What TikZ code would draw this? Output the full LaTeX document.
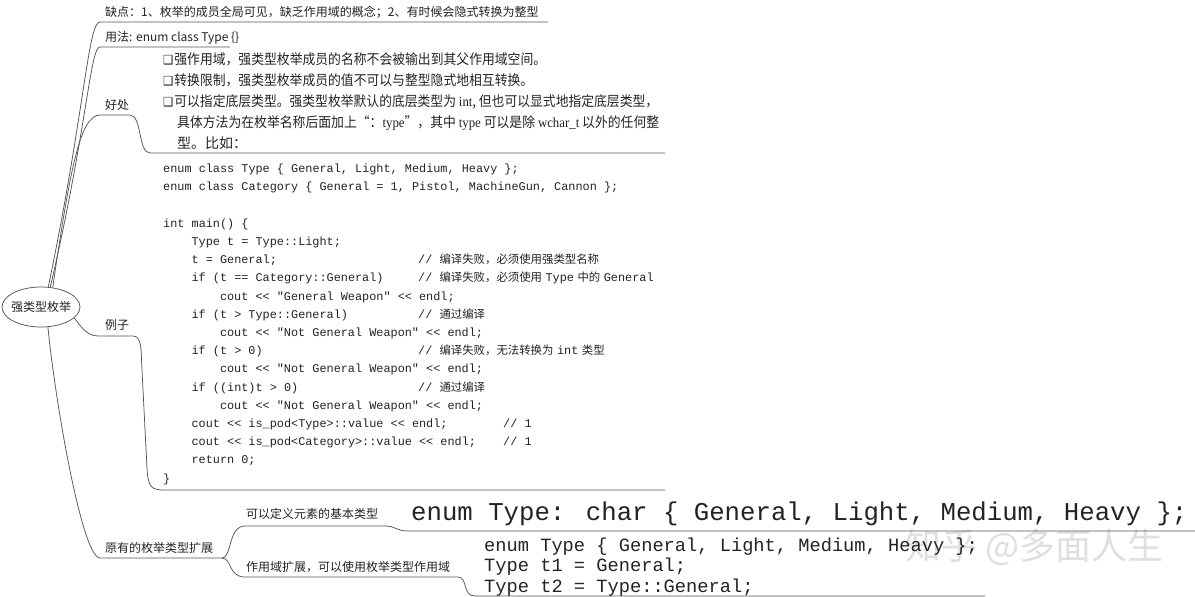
\documentclass[tikz,border=0pt]{standalone}
\usepackage{fontspec}
\usepackage{graphicx}
\setmainfont{Noto Sans CJK SC}
\newfontfamily\cjk{Noto Sans CJK SC}
\newfontfamily\codefnt{Liberation Mono}
\newfontfamily\serifl{Liberation Serif}
\newfontfamily\symfnt{DejaVu Sans}
\usetikzlibrary{shapes.geometric}
\definecolor{linegray}{RGB}{85,85,85}
\definecolor{txt}{RGB}{35,35,35}
\newcommand{\fitw}[2]{\resizebox{#1}{\height}{#2}}
\newcommand{\bul}{{\symfnt\fontsize{12.5}{12.5}\selectfont ❑}\hspace{1pt}}
\newcommand{\cmt}{\cjk\fontsize{11.4}{13}\selectfont}
\newcommand{\gap}{\hspace{3.5pt}}
\begin{document}
\begin{tikzpicture}[x=1pt,y=-1pt,
  conn/.style={draw=linegray,line width=0.75pt},
  lbl/.style={anchor=base west,inner sep=0,text=txt,font=\fontsize{12}{14}\selectfont},
  blt/.style={anchor=base west,inner sep=0,text=txt,font=\fontsize{14}{16}\selectfont},
  code/.style={anchor=base west,inner sep=0,text=txt,font=\codefnt\fontsize{11.85}{13}\selectfont},
  bigcode/.style={anchor=base west,inner sep=0,text=txt,font=\codefnt\fontsize{25.7}{28}\selectfont},
  midcode/.style={anchor=base west,inner sep=0,text=txt,font=\codefnt\fontsize{18.7}{20}\selectfont}]
\useasboundingbox (0,0) rectangle (1195,597);

% watermark
\node[anchor=base west,inner sep=0,text=gray!25,font=\fontsize{36}{38}\selectfont] (wm) at (905,559.7) {知乎 @多面人生};

% root
\node[ellipse,draw=linegray,line width=0.75pt,minimum width=78pt,minimum height=40pt,
      inner xsep=-3pt,inner ysep=0pt,text=txt,font=\fontsize{12}{14}\selectfont] (root) at (41,307) {强类型枚举};

% coordinates
\coordinate (qdL) at (100,22);  \coordinate (qdR) at (548,22);
\coordinate (yfL) at (100,47);  \coordinate (yfR) at (230,47);
\coordinate (hcL) at (100,115); \coordinate (hcR) at (130,115);
\coordinate (hcB) at (150,153); \coordinate (hcE) at (665,153);
\coordinate (lzL) at (100,336); \coordinate (lzR) at (133,336);
\coordinate (lzB) at (165,490); \coordinate (lzE) at (665,490);
\coordinate (yyL) at (100,558); \coordinate (yyR) at (222,558);
\coordinate (kdL) at (245,526); \coordinate (kdR) at (385,526);
\coordinate (kdB) at (408,531); \coordinate (kdE) at (1195,531);
\coordinate (zyL) at (245,577); \coordinate (zyR) at (458,577);
\coordinate (zyB) at (475,596); \coordinate (zyE) at (985,596);

% connectors
\draw[conn] (root.70) .. controls (85,110) and (88,22) .. (qdL) -- (qdR);
\draw[conn] (root.65) .. controls (87,130) and (90,47) .. (yfL) -- (yfR);
\draw[conn] (root.59) .. controls (70,170) and (80,115) .. (hcL) -- (hcR)
   .. controls (142,115) and (138,153) .. (hcB) -- (hcE);
\draw[conn] (root.-18) .. controls (85,333) and (90,336) .. (lzL) -- (lzR)
   .. controls (142,336) and (141,350) .. (142,370) -- (147,468)
   .. controls (148,488) and (152,490) .. (lzB) -- (lzE);
\draw[conn] (root.-71) .. controls (55,400) and (82,558) .. (yyL) -- (yyR);
\draw[conn] (yyR) .. controls (232,558) and (228,526) .. (kdL) -- (kdR)
   .. controls (396,526) and (396,531) .. (kdB) -- (kdE);
\draw[conn] (yyR) .. controls (232,558) and (228,577) .. (zyL) -- (zyR)
   .. controls (468,577) and (462,596) .. (zyB) -- (zyE);

% labels
\node[lbl] (qd) at (105,16.5) {缺点：1、枚举的成员全局可见，缺乏作用域的概念；2、有时候会隐式转换为整型};
\node[lbl] (yf) at (105,41) {用法: enum class Type \{\}};
\node[lbl] (hc) at (105,109.5) {好处};
\node[lbl] (lz) at (105,329.5) {例子};
\node[lbl] (yy) at (105,552.5) {原有的枚举类型扩展};
\node[lbl] (kd) at (246,518.5) {可以定义元素的基本类型};
\node[lbl] (zy) at (246,571.5) {作用域扩展，可以使用枚举类型作用域};

% benefits text
\node[blt] (b1) at (163,64.3) {\fitw{383pt}{\bul 强作用域，强类型枚举成员的名称不会被输出到其父作用域空间。}};
\node[blt] (b2) at (163,85.3) {\fitw{370pt}{\bul 转换限制，强类型枚举成员的值不可以与整型隐式地相互转换。}};
\node[blt] (b3) at (163,106.3) {\fitw{495pt}{\bul 可以指定底层类型。强类型枚举默认的底层类型为 {\serifl int}, 但也可以显式地指定底层类型，}};
\node[blt] (b4) at (177,127.3) {\fitw{482pt}{具体方法为在枚举名称后面加上“：{\serifl type}”，其中 {\serifl type} 可以是除 {\serifl wchar\_t} 以外的任何整}};
\node[blt] (b5) at (177,148.3) {型。比如：};

% example code
\node[code] (c1) at (163,172.6) {enum class Type \{ General, Light, Medium, Heavy \};};
\node[code] (c2) at (163,190.8) {enum class Category \{ General = 1, Pistol, MachineGun, Cannon \};};
\node[code] (c3) at (163,227.2) {int main() \{};
\node[code] (c4) at (191.4,245.4) {Type t = Type::Light;};
\node[code] (c5) at (191.4,263.6) {t = General;};
\node[code] (c5m) at (418,263.6) {// {\cmt 编译失败，必须使用强类型名称}};
\node[code] (c6) at (191.4,281.8) {if (t == Category::General)};
\node[code] (c6m) at (418,281.8) {// {\cmt 编译失败，必须使用}\gap Type\gap{\cmt 中的}\gap General};
\node[code] (c7) at (219.8,300) {cout << "General Weapon" << endl;};
\node[code] (c8) at (191.4,318.2) {if (t > Type::General)};
\node[code] (c8m) at (418,318.2) {// {\cmt 通过编译}};
\node[code] (c9) at (219.8,336.4) {cout << "Not General Weapon" << endl;};
\node[code] (c10) at (191.4,354.6) {if (t > 0)};
\node[code] (c10m) at (418,354.6) {// {\cmt 编译失败，无法转换为}\gap int\gap{\cmt 类型}};
\node[code] (c11) at (219.8,372.8) {cout << "Not General Weapon" << endl;};
\node[code] (c12) at (191.4,391) {if ((int)t > 0)};
\node[code] (c12m) at (418,391) {// {\cmt 通过编译}};
\node[code] (c13) at (219.8,409.2) {cout << "Not General Weapon" << endl;};
\node[code] (c14) at (191.4,427.4) {cout << is\_pod<Type>::value << endl;};
\node[code] (c14m) at (503,427.4) {// 1};
\node[code] (c15) at (191.4,445.6) {cout << is\_pod<Category>::value << endl;};
\node[code] (c15m) at (503,445.6) {// 1};
\node[code] (c16) at (191.4,463.8) {return 0;};
\node[code] (c17) at (163,482) {\}};

% extension code
\node[bigcode] (big) at (411,520) {enum Type: char \{ General, Light, Medium, Heavy \};};
\node[midcode] (e1) at (484,551.6) {enum Type \{ General, Light, Medium, Heavy \};};
\node[midcode] (e2) at (484,571.6) {Type t1 = General;};
\node[midcode] (e3) at (484,592.6) {Type t2 = Type::General;};
\end{tikzpicture}
\end{document}
